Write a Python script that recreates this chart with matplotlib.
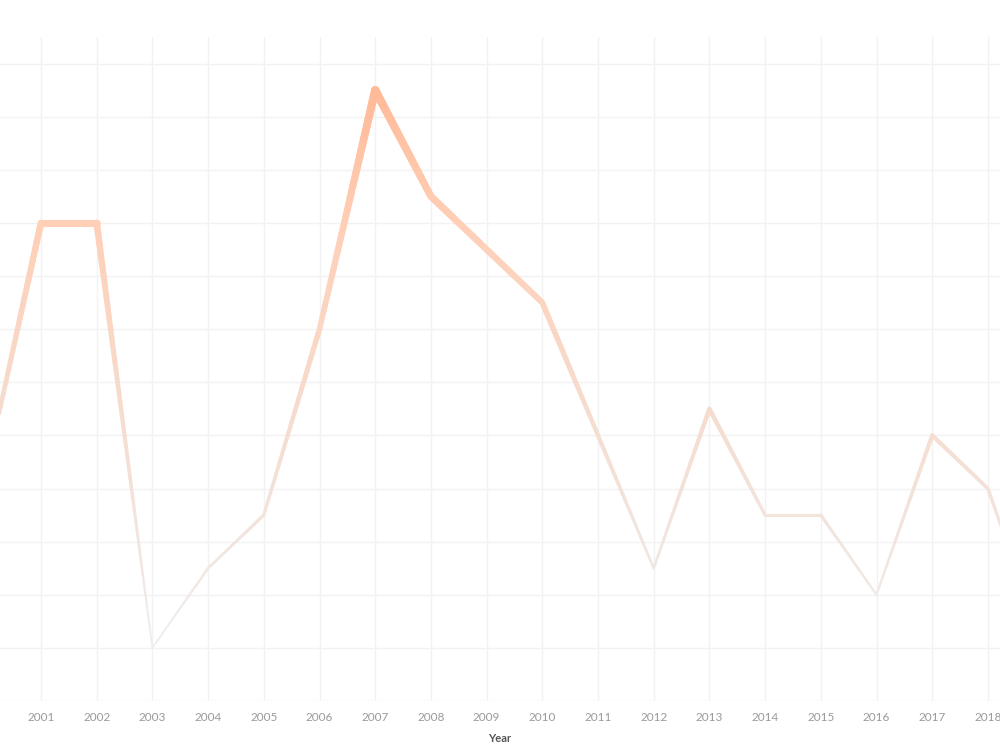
import numpy as np
import matplotlib
matplotlib.use('Agg')
import matplotlib.pyplot as plt  # noqa E402
from matplotlib.collections import LineCollection  # noqa E402
from matplotlib.colors import LinearSegmentedColormap  # noqa E402

plt.rcParams['font.family'] = ['Lato', 'DejaVu Sans']

years = [2000, 2001, 2002, 2003, 2004, 2005, 2006, 2007, 2008, 2009,
         2010, 2011, 2012, 2013, 2014, 2015, 2016, 2017, 2018, 2019]
counts = [8.5, 18, 18, 2, 5, 7, 14, 23, 19, 17,
          15, 10, 5, 11, 7, 7, 4, 10, 8, 2]
# only these year labels are visible in the cropped view
shown_years = years[1:-1]

# Colour and width follow the value, like a tableau "color + size" mark
cmap = LinearSegmentedColormap.from_list(
    'salmon', [(0.0, '#efeded'), (0.4, '#f5ddd0'),
               (0.76, '#ffcfb7'), (1.0, '#ffba98')])
vmin, vmax = 2, 23


def width_for(v):
    px = 1.5 + (v - vmin) / (vmax - vmin) * 6.8
    return px * 0.72


fig = plt.figure(figsize=(10, 7.5), dpi=100)
ax = fig.add_axes([0, 49 / 750, 1, 664 / 750])

# split every segment into short pieces so colour/width blend smoothly
segs, cols, widths = [], [], []
for i in range(len(years) - 1):
    x0, x1 = years[i], years[i + 1]
    y0, y1 = counts[i], counts[i + 1]
    n = 40
    for k in range(n):
        t0, t1 = k / n, (k + 1) / n
        xa, ya = x0 + (x1 - x0) * t0, y0 + (y1 - y0) * t0
        xb, yb = x0 + (x1 - x0) * t1, y0 + (y1 - y0) * t1
        segs.append([(xa, ya), (xb, yb)])
        vm = (ya + yb) / 2
        cols.append(cmap((vm - vmin) / (vmax - vmin)))
        widths.append(width_for(vm))

lc = LineCollection(segs, colors=cols, linewidths=widths,
                    capstyle='round', joinstyle='round', zorder=3)
ax.add_collection(lc)

ax.set_xticks(shown_years)
ax.set_xticklabels([str(y) for y in shown_years], fontsize=8.5,
                   color='#999999')
ax.set_yticks(range(0, 25, 2))
ax.set_xlim(2000.264, 2018.217)
ax.set_ylim(0, 25)
ax.tick_params(axis='y', left=False, labelleft=False)
ax.tick_params(axis='x', length=0, pad=8)
ax.grid(True, color='#f2f2f2', linewidth=1, zorder=0)
ax.set_axisbelow(True)
for s in ax.spines.values():
    s.set_visible(False)
ax.set_xlabel('Year', fontsize=8, color='#555555', fontweight='bold',
              labelpad=7)

fig.savefig('out.png', dpi=100)
plt.close(fig)
